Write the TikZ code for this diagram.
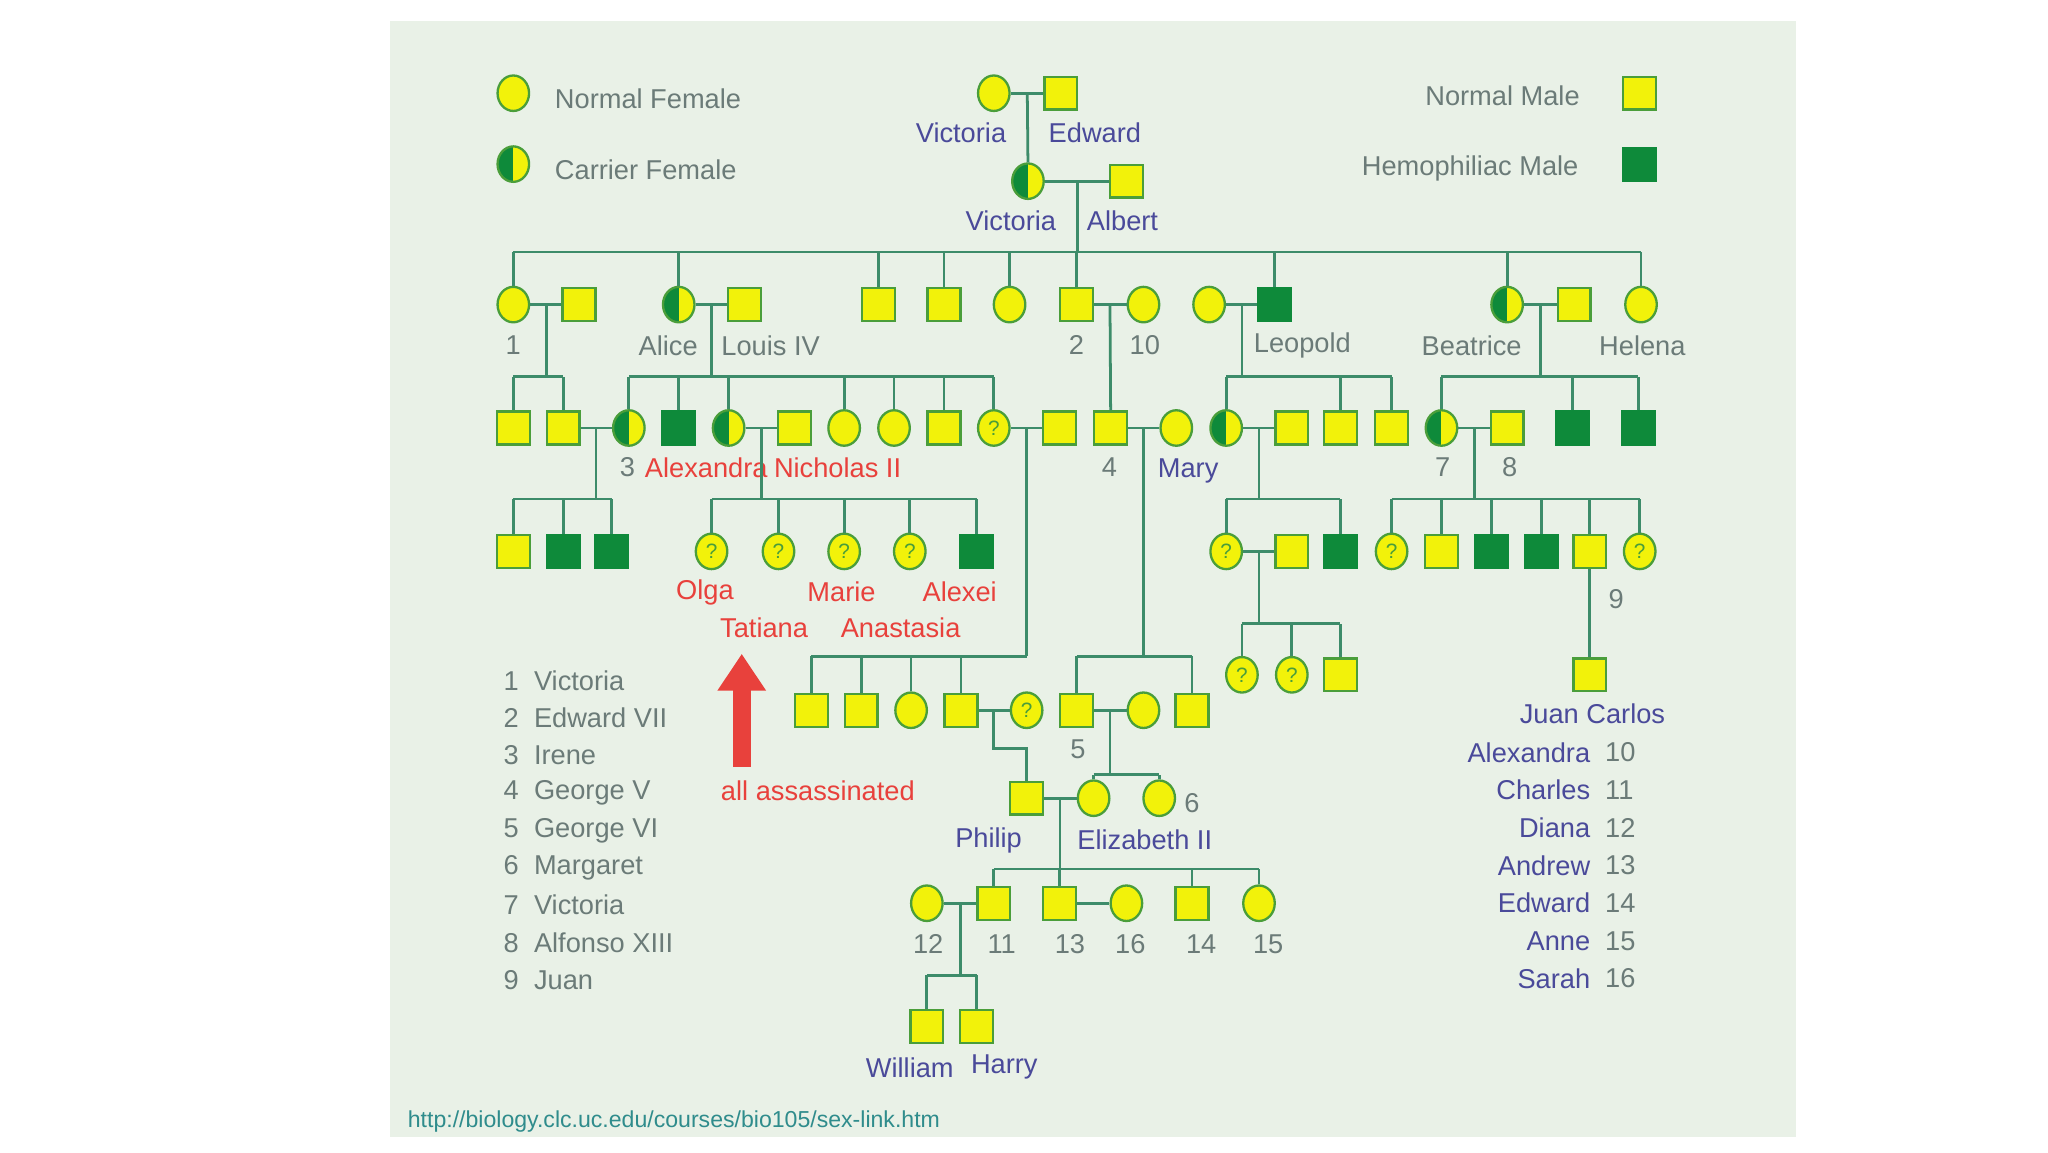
\documentclass[tikz,border=0pt]{standalone}
\usepackage{fontspec}
\setmainfont{Liberation Sans}
\usetikzlibrary{calc,shapes.geometric,arrows.meta}
\definecolor{bgc}{HTML}{E9F1E7}
\definecolor{yel}{HTML}{F2F20A}
\definecolor{edg}{HTML}{4A9E3A}
\definecolor{dkg}{HTML}{0E8A3A}
\definecolor{lnc}{HTML}{3D8C6A}
\definecolor{gtx}{HTML}{6B7B78}
\definecolor{btx}{HTML}{4A4A9A}
\definecolor{rtx}{HTML}{E8413C}
\definecolor{utx}{HTML}{2F8C8C}
\tikzset{
 sym/.style={draw=edg,line width=0.5pt,inner sep=0pt},
 femsym/.style={sym,ellipse,fill=yel,minimum width=0.24cm,minimum height=0.27cm},
 malsym/.style={sym,rectangle,fill=yel,minimum size=0.25cm},
 hemsym/.style={sym,rectangle,fill=dkg,draw=dkg,minimum size=0.25cm},
 carsym/.style={femsym,path picture={\fill[dkg] (path picture bounding box.south west) rectangle (path picture bounding box.north);}},
 qsym/.style={femsym,font=\fontsize{4.5}{4.5}\selectfont\color{edg}},
 ln/.style={draw=lnc,line width=0.6pt},
 gl/.style={font=\fontsize{5.9}{7}\selectfont,text=gtx,inner sep=0pt},
 bl/.style={gl,text=btx},
 rl/.style={gl,text=rtx},
}
\newcommand\gF[3]{\node[femsym] (#1) at (#2,#3) {};}
\newcommand\gM[3]{\node[malsym] (#1) at (#2,#3) {};}
\newcommand\gH[3]{\node[hemsym] (#1) at (#2,#3) {};}
\newcommand\gC[3]{\node[carsym] (#1) at (#2,#3) {};}
\newcommand\gQ[3]{\node[qsym] (#1) at (#2,#3) {?};}
\newcommand\desc[4]{\coordinate (#3) at ($(#1)!0.5!(#2)$); \draw[ln] (#3) -- (#3 |- 0,#4);}
\newcommand\stick[2]{\draw[ln] (#1.north) -- (#1.north |- 0,#2);}
\newcommand\sbar[3]{\draw[ln] (#1.north |- 0,#3) -- (#2.north |- 0,#3);}
\begin{document}
\begin{tikzpicture}[x=0.01cm,y=-0.01cm]
\useasboundingbox (0,0) rectangle (1560,878);
\fill[bgc] (297,16) rectangle (1368,866);
% legend
\gF{lf}{391}{71} \node[gl,anchor=west] (lft) at (422,75) {Normal Female};
\gC{lc}{391}{125} \node[gl,anchor=west] (lct) at (422,129) {Carrier Female};
\gM{lm}{1249}{71} \node[gl,anchor=east] (lmt) at (1204,73) {Normal Male};
\gH{lh}{1249}{125} \node[gl,anchor=east] (lht) at (1203,128) {Hemophiliac Male};
% gen0
\gF{v0}{757}{71} \gM{e0}{808}{71} \draw[ln] (v0)--(e0);
\node[bl] at (732,101) {Victoria}; \node[bl] at (834,101) {Edward};
\gC{vc}{783}{138} \gM{alb}{858}{138} \draw[ln] (vc)--(alb);
\coordinate (p0) at ($(v0)!0.5!(e0)$); \draw[ln] (p0) -- (vc.north);
\node[bl] at (770,168) {Victoria}; \node[bl] at (855,168) {Albert};
% gen1
\gF{c1}{391}{232} \gM{c1s}{441}{232} \draw[ln] (c1)--(c1s);
\gC{ali}{517}{232} \gM{lou}{567}{232} \draw[ln] (ali)--(lou);
\gM{k1}{669}{232} \gM{k2}{719}{232} \gF{k3}{769}{232}
\gM{ed}{820}{232} \gF{alx}{871}{232} \draw[ln] (ed)--(alx);
\gF{leow}{921}{232} \gH{leo}{971}{232} \draw[ln] (leow)--(leo);
\gC{bea}{1148}{232} \gM{beas}{1199}{232} \draw[ln] (bea)--(beas);
\gF{hel}{1250}{232}
\desc{vc}{alb}{m1}{192}
\sbar{c1}{hel}{192}
\foreach \n in {c1,ali,k1,k2,k3,ed,leo,bea,hel} {\stick{\n}{192}}
\node[gl] at (391,263) {1}; \node[gl] at (509,263) {Alice}; \node[gl] at (587,263) {Louis IV};
\node[gl] at (820,263) {2}; \node[gl] at (872,263) {10}; \node[gl] at (992,263) {Leopold};
\node[gl] at (1121,263) {Beatrice}; \node[gl] at (1251,263) {Helena};
% gen2
\gM{g1}{391}{326} \gM{g2}{429}{326}
\gC{ir}{479}{326} \gH{a2}{517}{326} \gC{axa}{555}{326} \gM{nic}{605}{326}
\gF{a4}{643}{326} \gF{a5}{681}{326} \gM{a6}{719}{326} \gQ{a7}{757}{326} \gM{a7s}{807}{326}
\gM{geo}{846}{326} \gF{mar}{896}{326}
\gC{lc1}{934}{326} \gM{lc1s}{984}{326} \gM{l2}{1021}{326} \gM{l3}{1060}{326}
\gC{vic7}{1098}{326} \gM{alf}{1148}{326} \gH{b3}{1198}{326} \gH{b4}{1248}{326}
\draw[ln] (g2)--(ir); \draw[ln] (axa)--(nic); \draw[ln] (a7)--(a7s); \draw[ln] (geo)--(mar);
\draw[ln] (lc1)--(lc1s); \draw[ln] (vic7)--(alf);
\desc{c1}{c1s}{m2}{287} \sbar{g1}{g2}{287} \stick{g1}{287} \stick{g2}{287}
\desc{ali}{lou}{m3}{287} \sbar{ir}{a7}{287}
\foreach \n in {ir,a2,axa,a4,a5,a6,a7} {\stick{\n}{287}}
\coordinate (m4) at ($(ed)!0.5!(alx)$); \draw[ln] (m4) -- (geo.north);
\desc{leow}{leo}{m5}{287} \sbar{lc1}{l3}{287}
\foreach \n in {lc1,l2,l3} {\stick{\n}{287}}
\desc{bea}{beas}{m6}{287} \sbar{vic7}{b4}{287}
\foreach \n in {vic7,b3,b4} {\stick{\n}{287}}
\node[gl] at (478,356) {3}; \node[rl] at (538,356) {Alexandra}; \node[rl] at (638,356) {Nicholas II};
\node[gl] at (845,356) {4}; \node[bl] at (905,359) {Mary};
\node[gl] at (1099,356) {7}; \node[gl] at (1150,356) {8};
% gen3
\gM{h1}{391}{420} \gH{h2}{429}{420} \gH{h3}{466}{420}
\desc{g2}{ir}{m7}{380} \sbar{h1}{h3}{380} \foreach \n in {h1,h2,h3} {\stick{\n}{380}}
\gQ{ol}{542}{420} \gQ{ta}{593}{420} \gQ{ma}{643}{420} \gQ{an}{693}{420} \gH{ax}{744}{420}
\desc{axa}{nic}{m8}{380} \sbar{ol}{ax}{380} \foreach \n in {ol,ta,ma,an,ax} {\stick{\n}{380}}
\node[rl] at (537,451) {Olga}; \node[rl] at (641,451) {Marie}; \node[rl] at (731,451) {Alexei};
\node[rl] at (582,478) {Tatiana}; \node[rl] at (686,478) {Anastasia};
\gQ{q1}{934}{420} \gM{q1s}{984}{420} \gH{q2}{1021}{420} \draw[ln] (q1)--(q1s);
\desc{lc1}{lc1s}{m9}{380} \sbar{q1}{q2}{380} \stick{q1}{380} \stick{q2}{380}
\gQ{s1}{1060}{420} \gM{s2}{1098}{420} \gH{s3}{1136}{420} \gH{s4}{1174}{420} \gM{jn}{1211}{420} \gQ{s6}{1249}{420}
\desc{vic7}{alf}{m10}{380} \sbar{s1}{s6}{380} \foreach \n in {s1,s2,s3,s4,jn,s6} {\stick{\n}{380}}
\node[gl] at (1231,456) {9};
\gM{jc}{1211}{514} \draw[ln] (jn) -- (jc);
\node[bl] at (1213,544) {Juan Carlos};
\gQ{t1}{946}{514} \gQ{t2}{984}{514} \gM{t3}{1021}{514}
\desc{q1}{q1s}{m11}{475} \sbar{t1}{t3}{475} \foreach \n in {t1,t2,t3} {\stick{\n}{475}}
% Prussian / Greek branch
\gM{u1}{618}{541} \gM{u2}{656}{541} \gF{u3}{694}{541} \gM{u4}{732}{541} \gQ{u5}{782}{541}
\draw[ln] (u4)--(u5);
\desc{a7}{a7s}{m12}{500} \sbar{u1}{u5}{500} \foreach \n in {u1,u2,u3,u4} {\stick{\n}{500}}
\gM{phil}{782}{608}
\coordinate (m13) at ($(u4)!0.5!(u5)$); \draw[ln] (m13) -- ++(0,29) -| (phil.north);
% Windsor
\gM{gvi}{820}{541} \gF{gvis}{871}{541} \gM{w3}{908}{541} \draw[ln] (gvi)--(gvis);
\desc{geo}{mar}{m14}{500} \sbar{gvi}{w3}{500} \stick{gvi}{500} \stick{w3}{500}
\node[gl] at (821,571) {5};
\gF{eli}{833}{608} \gF{marg}{883}{608} \draw[ln] (phil)--(eli);
\desc{gvi}{gvis}{m15}{590} \sbar{eli}{marg}{590} \stick{eli}{590} \stick{marg}{590}
\node[gl] at (908,612) {6};
\node[bl] at (753,640) {Philip}; \node[bl] at (872,640) {Elizabeth II};
\gF{di}{706}{688} \gM{ch}{757}{688} \gM{and}{807}{688} \gF{sa}{858}{688} \gM{edw}{908}{688} \gF{ann}{959}{688}
\draw[ln] (di)--(ch); \draw[ln] (and)--(sa);
\desc{phil}{eli}{m16}{662} \sbar{ch}{ann}{662} \foreach \n in {ch,and,edw,ann} {\stick{\n}{662}}
\node[gl] at (707,719) {12}; \node[gl] at (763,719) {11}; \node[gl] at (815,719) {13};
\node[gl] at (861,719) {16}; \node[gl] at (915,719) {14}; \node[gl] at (966,719) {15};
\gM{wil}{706}{782} \gM{har}{744}{782}
\desc{di}{ch}{m17}{743} \sbar{wil}{har}{743} \stick{wil}{743} \stick{har}{743}
\node[bl] at (693,813) {William}; \node[bl] at (765,813) {Harry};
% arrow
\coordinate (ar1) at (565,584); \coordinate (ar2) at (565,498);
\draw[rtx,line width=4pt,-{Triangle[width=10pt,length=8pt]}] (ar1) -- (ar2);
\node[rl] at (623,602) {all assassinated};
% left list
\foreach \t [count=\i] in {Victoria,Edward VII,Irene,George V,George VI,Margaret,Victoria,Alfonso XIII,Juan} {
  \node[gl,anchor=west] at (383,{490+28.5*\i}) {\i\ \ \t};}
% right list
\foreach \t/\k [count=\i] in {Alexandra/10,Charles/11,Diana/12,Andrew/13,Edward/14,Anne/15,Sarah/16} {
  \node[bl,anchor=east] at (1212,{544.5+28.7*\i}) {\t};
  \node[gl,anchor=west] at (1222,{544.5+28.7*\i}) {\k};}
\node[gl,text=utx,font=\fontsize{5}{6}\selectfont,anchor=west] at (310,854) {http://biology.clc.uc.edu/courses/bio105/sex-link.htm};
\end{tikzpicture}
\end{document}
